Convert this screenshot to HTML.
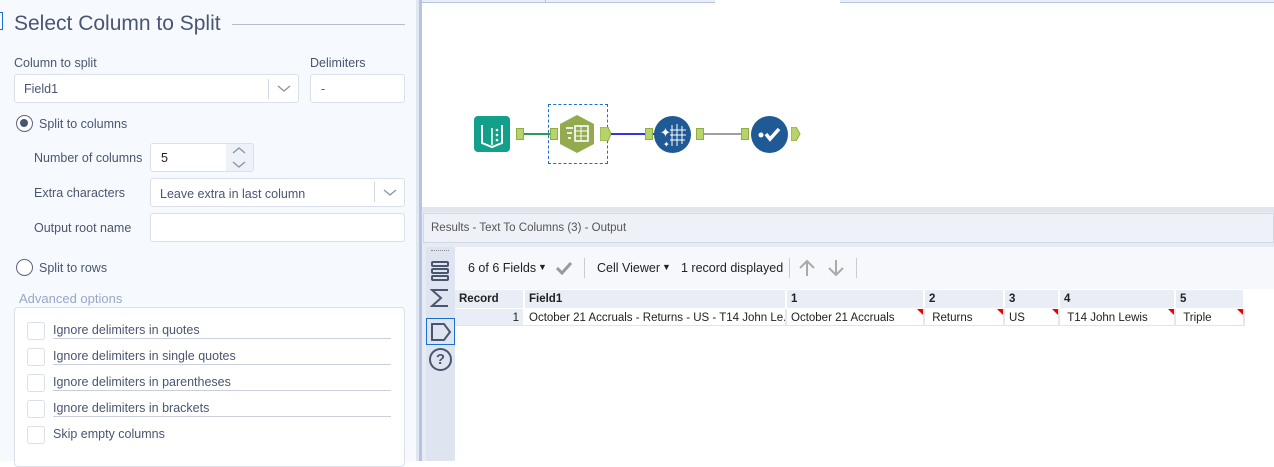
<!DOCTYPE html>
<html><head><style>
*{box-sizing:border-box;margin:0;padding:0}
body{width:1274px;height:461px;overflow:hidden;position:relative;background:#fff;font-family:"Liberation Sans",sans-serif;color:#3e4a66}
.a{position:absolute}
.lbl{font-size:12.5px;color:#4a5570}
.box{position:absolute;background:#fff;border:1px solid #d9e0ec;border-radius:3px}
.rad{position:absolute;width:17px;height:17px;border:1.5px solid #5a6480;border-radius:50%;background:#fff}
.cb{position:absolute;left:27px;width:18px;height:18px;border:1px solid #d9e0ec;border-radius:3px;background:#fff}
.cbt{position:absolute;left:53px;font-size:12.5px;color:#4a5570;width:338px;border-bottom:1px solid #c9d0dc;padding-bottom:1px}
.th{position:absolute;top:290px;height:18px;background:#e8edf6;border-right:2px solid #fff;font-size:11.5px;font-weight:bold;color:#222;padding:3px 4px}
.td{position:absolute;top:309px;height:17px;background:#fff;border-right:2px solid #e3e8f0;border-bottom:1px solid #dfe5ef;font-size:11.5px;color:#222;padding:3px 4px 0;white-space:nowrap;overflow:hidden}
.td i{position:absolute;right:0;top:0;width:0;height:0;border-top:6px solid #e00;border-left:6px solid transparent}
.port{position:absolute;width:8px;height:12px;background:#b7d36b;border:1px solid #8fae3c}
</style></head><body>
<div class="a" style="left:0;top:0;width:416px;height:461px;background:#f6f9fe"></div>
<div class="a" style="left:0;top:12px;width:3px;height:18px;border:1px solid #1a6fd0;border-left:none"></div>
<div class="a" style="left:416px;top:0;width:3px;height:461px;background:#e1e7f1"></div>
<div class="a" style="left:419px;top:0;width:3px;height:461px;background:#b5c4e0"></div>
<div class="a" style="left:14px;top:12px;font-size:21px;color:#4a5570">Select Column to Split</div>
<div class="a" style="left:232px;top:24px;width:173px;height:1px;background:#b8bfcc"></div>
<div class="a lbl" style="left:14px;top:56px">Column to split</div>
<div class="a lbl" style="left:310px;top:56px">Delimiters</div>
<div class="box" style="left:14px;top:74px;width:285px;height:29px"></div>
<div class="a lbl" style="left:24px;top:82px">Field1</div>
<div class="a" style="left:268px;top:79px;width:1px;height:20px;background:#d0d6e2"></div>
<svg class="a" style="left:277px;top:84px" width="14" height="9"><polyline points="1,2 7,7 13,2" fill="none" stroke="#8a94a8" stroke-width="1.3"/></svg>
<div class="box" style="left:310px;top:74px;width:95px;height:29px"></div>
<div class="a lbl" style="left:321px;top:82px">-</div>
<div class="rad" style="left:16px;top:115px"><div class="a" style="left:3px;top:3px;width:8px;height:8px;border-radius:50%;background:#4a5570"></div></div>
<div class="a lbl" style="left:39px;top:117px">Split to columns</div>
<div class="a lbl" style="left:34px;top:151px">Number of columns</div>
<div class="box" style="left:150px;top:143px;width:104px;height:29px"></div>
<div class="a" style="left:226px;top:144px;width:27px;height:27px;background:#eef1f7"></div>
<svg class="a" style="left:232px;top:146px" width="14" height="24"><polyline points="1,7 7,2 13,7" fill="none" stroke="#8a94a8" stroke-width="1.3"/><polyline points="1,16 7,21 13,16" fill="none" stroke="#8a94a8" stroke-width="1.3"/></svg>
<div class="a" style="left:161px;top:151px;font-size:12.5px;color:#222">5</div>
<div class="a lbl" style="left:34px;top:186px">Extra characters</div>
<div class="box" style="left:150px;top:178px;width:255px;height:29px"></div>
<div class="a lbl" style="left:160px;top:187px">Leave extra in last column</div>
<div class="a" style="left:374px;top:182px;width:1px;height:20px;background:#d0d6e2"></div>
<svg class="a" style="left:383px;top:188px" width="14" height="9"><polyline points="1,2 7,7 13,2" fill="none" stroke="#8a94a8" stroke-width="1.3"/></svg>
<div class="a lbl" style="left:34px;top:221px">Output root name</div>
<div class="box" style="left:150px;top:213px;width:255px;height:29px"></div>
<div class="rad" style="left:16px;top:259px"></div>
<div class="a lbl" style="left:39px;top:261px">Split to rows</div>
<div class="a" style="left:19px;top:291px;font-size:13px;color:#9aa6c4">Advanced options</div>
<div class="box" style="left:14px;top:307px;width:391px;height:160px;border-radius:4px"></div>
<div class="cb" style="top:322px"></div><div class="cbt" style="top:323px">Ignore delimiters in quotes</div>
<div class="cb" style="top:348px"></div><div class="cbt" style="top:349px">Ignore delimiters in single quotes</div>
<div class="cb" style="top:374px"></div><div class="cbt" style="top:375px">Ignore delimiters in parentheses</div>
<div class="cb" style="top:400px"></div><div class="cbt" style="top:401px">Ignore delimiters in brackets</div>
<div class="cb" style="top:426px"></div><div class="cbt" style="top:427px;border:none">Skip empty columns</div>
<div class="a" style="left:422px;top:0;width:293px;height:3px;background:#e8edf6;border-bottom:1px solid #b5c4e0"></div>
<div class="a" style="left:545px;top:0;width:1px;height:3px;background:#b5c4e0"></div>
<div class="a" style="left:840px;top:0;width:434px;height:3px;background:#e8edf6;border-bottom:1px solid #b5c4e0"></div>
<div class="a" style="left:474px;top:116px;width:36px;height:36px;background:#13a08a;border-radius:4px"></div>
<svg class="a" style="left:474px;top:116px" width="36" height="36"><path d="M8,9 L8,27 L18,31 L28,27 L28,9" fill="none" stroke="#fff" stroke-width="2"/><line x1="18" y1="12" x2="18" y2="29" stroke="#fff" stroke-width="1.5"/><circle cx="23" cy="14" r="1.3" fill="#fff"/><circle cx="23" cy="19" r="1.3" fill="#fff"/><circle cx="23" cy="24" r="1.3" fill="#fff"/></svg>
<div class="port" style="left:516px;top:128px"></div>
<div class="a" style="left:524px;top:133px;width:30px;height:2px;background:#2d9a5a"></div>
<div class="port" style="left:550px;top:128px"></div>
<div class="a" style="left:548px;top:104px;width:60px;height:60px;border:1px dashed #1a6fd0"></div>
<svg class="a" style="left:557px;top:114px" width="40" height="40"><polygon points="20,1 37,10 37,30 20,39 3,30 3,10" fill="#93ab4e"/><rect x="18" y="12" width="13" height="15" fill="none" stroke="#fff" stroke-width="1.6"/><line x1="18" y1="17" x2="31" y2="17" stroke="#fff"/><line x1="18" y1="22" x2="31" y2="22" stroke="#fff"/><line x1="24" y1="12" x2="24" y2="27" stroke="#fff"/><line x1="9" y1="14" x2="16" y2="14" stroke="#fff" stroke-width="1.6"/><line x1="10" y1="19" x2="15" y2="19" stroke="#fff" stroke-width="1.6"/><line x1="11" y1="24" x2="14" y2="24" stroke="#fff" stroke-width="1.6"/></svg>
<svg class="a" style="left:600px;top:127px" width="12" height="14"><polygon points="0,0 8,0 11,7 8,14 0,14" fill="#b7d36b" stroke="#8fae3c"/></svg>
<div class="a" style="left:611px;top:133px;width:45px;height:2px;background:#3535e0"></div>
<div class="port" style="left:645px;top:128px"></div>
<svg class="a" style="left:654px;top:116px" width="37" height="37"><circle cx="18.5" cy="18.5" r="18.5" fill="#1f5a96"/><g stroke="#fff" stroke-width="1"><line x1="18" y1="9" x2="18" y2="30"/><line x1="23" y1="8" x2="23" y2="30"/><line x1="28" y1="10" x2="28" y2="28"/><line x1="16" y1="14" x2="32" y2="14"/><line x1="16" y1="19" x2="32" y2="19"/><line x1="16" y1="24" x2="31" y2="24"/></g><text x="6" y="21" fill="#fff" font-size="13">✦</text><text x="9" y="31" fill="#fff" font-size="8">✦</text></svg>
<div class="port" style="left:696px;top:128px"></div>
<div class="a" style="left:704px;top:133px;width:40px;height:2px;background:#a0a0a0"></div>
<div class="port" style="left:741px;top:128px"></div>
<svg class="a" style="left:751px;top:116px" width="37" height="37"><circle cx="18.5" cy="18.5" r="18.5" fill="#1f5a96"/><circle cx="10" cy="19" r="2.5" fill="#fff"/><polyline points="15,18 19,23 28,13" fill="none" stroke="#fff" stroke-width="3.5"/></svg>
<svg class="a" style="left:791px;top:127px" width="12" height="14"><polygon points="0,0 5,0 9,7 5,14 0,14" fill="#b7d36b" stroke="#8fae3c"/></svg>
<div class="a" style="left:422px;top:207px;width:852px;height:5px;background:#e1e5ec"></div>
<div class="a" style="left:422px;top:212px;width:852px;height:249px;background:#e6ebf4"></div>
<div class="a" style="left:423px;top:213px;width:851px;height:30px;background:#eef1f8;border:1px solid #d3d9e4"></div>
<div class="a" style="left:431px;top:222px;font-size:11.5px;color:#555">Results - Text To Columns (3) - Output</div>
<div class="a" style="left:426px;top:247px;width:29px;height:214px;background:#dfe5f0"></div>
<div class="a" style="left:431px;top:250px;width:18px;height:1px;border-top:1px dotted #888"></div>
<div class="a" style="left:455px;top:247px;width:819px;height:214px;background:#fff"></div>
<div class="a" style="left:455px;top:247px;width:819px;height:42px;background:#f6f8fc"></div>
<svg class="a" style="left:430px;top:260px" width="20" height="22"><g fill="none" stroke="#4a5570" stroke-width="2"><rect x="2" y="2" width="16" height="4" rx="1"/><rect x="2" y="9" width="16" height="4" rx="1"/><rect x="2" y="16" width="16" height="4" rx="1"/></g></svg>
<svg class="a" style="left:430px;top:287px" width="20" height="22"><polyline points="18,3 2,3 11,11 2,19 18,19" fill="none" stroke="#4a5570" stroke-width="2"/></svg>
<div class="a" style="left:426px;top:318px;width:29px;height:27px;border:1px solid #1a6fd0"></div>
<svg class="a" style="left:430px;top:322px" width="22" height="20"><polygon points="2,2 14,2 20,10 14,18 2,18" fill="none" stroke="#4a5570" stroke-width="2"/></svg>
<div class="a" style="left:429px;top:348px;width:23px;height:23px;border:2px solid #4a5570;border-radius:50%;text-align:center;font-size:15px;font-weight:bold;line-height:19px;color:#4a5570">?</div>
<div class="a" style="left:468px;top:261px;font-size:12.5px;color:#222">6 of 6 Fields</div>
<div class="a" style="left:538px;top:262px;font-size:9px;color:#222">▼</div>
<svg class="a" style="left:555px;top:261px" width="18" height="14"><polyline points="2,7 7,12 16,2" fill="none" stroke="#999" stroke-width="3"/></svg>
<div class="a" style="left:584px;top:258px;width:1px;height:20px;background:#ccc"></div>
<div class="a" style="left:597px;top:261px;font-size:12.5px;color:#222">Cell Viewer</div>
<div class="a" style="left:662px;top:262px;font-size:9px;color:#222">▼</div>
<div class="a" style="left:681px;top:261px;font-size:12.5px;color:#222">1 record displayed</div>
<div class="a" style="left:789px;top:258px;width:1px;height:20px;background:#ccc"></div>
<svg class="a" style="left:798px;top:259px" width="50" height="18"><g fill="none" stroke="#aaa" stroke-width="2"><line x1="9" y1="2" x2="9" y2="17"/><polyline points="2,9 9,2 16,9"/><line x1="38" y1="1" x2="38" y2="16"/><polyline points="31,9 38,16 45,9"/></g></svg>
<div class="a" style="left:856px;top:258px;width:1px;height:20px;background:#ccc"></div>
<div class="th" style="left:455px;width:70px">Record</div>
<div class="th" style="left:525px;width:262px">Field1</div>
<div class="th" style="left:787px;width:138px">1</div>
<div class="th" style="left:925px;width:80px">2</div>
<div class="th" style="left:1005px;width:55px">3</div>
<div class="th" style="left:1060px;width:116px">4</div>
<div class="th" style="left:1176px;width:69px">5</div>
<div class="td" style="left:455px;width:70px;background:#e8edf6;text-align:right;border-right:2px solid #fff">1</div>
<div class="td" style="left:525px;width:262px">October 21 Accruals - Returns - US - T14 John Le...</div>
<div class="td" style="left:787px;width:138px">October 21 Accruals<i></i></div>
<div class="td" style="left:925px;width:80px">&nbsp;Returns<i></i></div>
<div class="td" style="left:1005px;width:55px">US<i></i></div>
<div class="td" style="left:1060px;width:116px">&nbsp;T14 John Lewis<i></i></div>
<div class="td" style="left:1176px;width:69px">&nbsp;Triple<i></i></div>
</body></html>
